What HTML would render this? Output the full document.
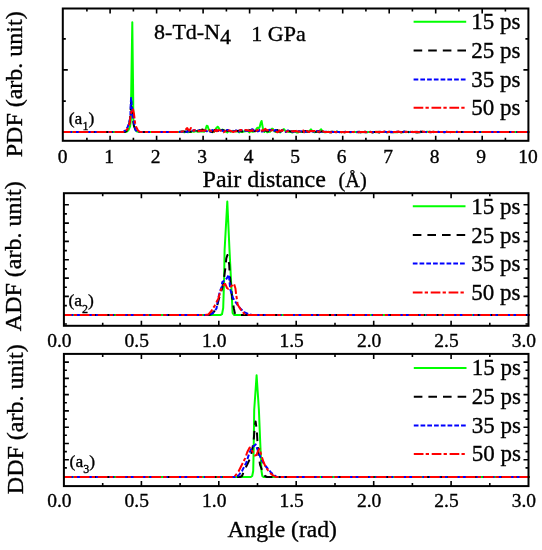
<!DOCTYPE html>
<html><head><meta charset="utf-8"><title>PDF ADF DDF</title>
<style>
html,body{margin:0;padding:0;background:#fff;}
body{width:542px;height:550px;overflow:hidden;}
svg{display:block;}
text{font-family:"Liberation Serif","Times New Roman",serif;fill:#000;stroke:#000;stroke-width:0.35px;}
.lg{font-size:23px;}
.tk{font-size:19.5px;}
.ax{font-size:24px;}
.an{font-size:22px;}
.al{font-size:17.5px;}
</style></head>
<body>
<svg width="542" height="550" viewBox="0 0 542 550">
<rect width="542" height="550" fill="#fff"/>
<defs>
<clipPath id="c1"><rect x="62.8" y="8.5" width="466.6" height="132.3"/></clipPath>
<clipPath id="c2"><rect x="63.9" y="193.2" width="465.6" height="132.6"/></clipPath>
<clipPath id="c3"><rect x="63.9" y="353.9" width="465.6" height="132.2"/></clipPath>
</defs>
<path d="M60.8,132.0 L125.0,132.0 L127.0,131.6 L128.5,130.0 L130.2,126.0 L130.9,119.0 L131.1,100.0 L131.4,80.0 L132.3,22.2 L133.0,80.0 L133.2,100.0 L133.3,119.0 L134.0,126.0 L135.5,130.0 L137.0,131.6 L139.0,132.0 L150.0,132.0 L150.9,132.0 L151.9,132.0 L152.8,132.0 L153.7,132.0 L154.7,132.0 L155.6,132.0 L156.5,132.0 L157.4,132.0 L158.4,132.0 L159.3,132.0 L160.2,132.0 L161.2,132.0 L162.1,132.0 L163.0,132.0 L163.9,132.0 L164.9,132.0 L165.8,132.0 L166.7,132.0 L167.7,132.0 L168.6,132.0 L169.5,132.0 L170.5,132.0 L171.4,132.0 L172.3,132.0 L173.2,132.1 L174.2,132.1 L175.1,132.0 L176.0,132.0 L177.0,132.0 L177.9,131.9 L178.8,131.9 L179.8,132.1 L180.7,131.7 L181.6,131.5 L182.6,131.7 L183.5,131.8 L184.4,132.3 L185.3,132.1 L186.3,131.7 L187.2,132.1 L188.1,132.3 L189.1,131.9 L190.0,132.0 L190.9,132.0 L191.8,131.6 L192.8,131.6 L193.7,131.8 L194.6,131.5 L195.6,131.0 L196.5,131.1 L197.4,131.7 L198.4,131.5 L199.3,131.4 L200.2,131.3 L201.2,131.6 L202.1,131.5 L203.0,131.1 L203.9,131.8 L204.9,131.2 L205.8,128.5 L206.7,125.8 L207.7,126.2 L208.6,129.2 L209.5,130.9 L210.4,131.4 L211.4,131.6 L212.3,131.1 L213.2,131.8 L214.2,131.8 L215.1,130.0 L216.0,128.5 L217.0,127.3 L217.9,126.7 L218.8,128.1 L219.8,129.8 L220.7,130.3 L221.6,130.2 L222.5,129.6 L223.5,130.4 L224.4,131.1 L225.3,131.1 L226.3,132.0 L227.2,132.5 L228.1,131.6 L229.1,130.9 L230.0,131.5 L230.9,131.7 L231.8,131.3 L232.8,131.1 L233.7,131.0 L234.6,131.1 L235.6,131.4 L236.5,131.6 L237.4,131.2 L238.4,131.9 L239.3,132.4 L240.2,131.5 L241.1,132.0 L242.1,131.9 L243.0,131.6 L243.9,131.4 L244.9,131.2 L245.8,131.3 L246.7,130.8 L247.7,130.9 L248.6,131.7 L249.5,132.4 L250.4,131.4 L251.4,130.9 L252.3,131.8 L253.2,131.7 L254.2,131.4 L255.1,130.9 L256.0,129.6 L256.9,128.2 L257.9,127.7 L258.8,128.2 L259.7,127.1 L260.7,122.9 L261.6,121.0 L262.5,126.1 L263.5,131.5 L264.4,132.0 L265.3,130.3 L266.2,130.9 L267.2,132.3 L268.1,131.7 L269.0,131.6 L270.0,131.8 L270.9,130.7 L271.8,128.7 L272.8,128.8 L273.7,130.4 L274.6,131.3 L275.6,131.9 L276.5,132.0 L277.4,132.0 L278.3,131.9 L279.3,132.0 L280.2,132.4 L281.1,131.3 L282.1,130.3 L283.0,129.6 L283.9,129.1 L284.9,130.4 L285.8,131.6 L286.7,131.5 L287.6,131.4 L288.6,132.0 L289.5,131.8 L290.4,131.6 L291.4,132.3 L292.3,132.4 L293.2,132.2 L294.1,131.2 L295.1,131.5 L296.0,132.1 L296.9,132.5 L297.9,132.5 L298.8,131.4 L299.7,131.5 L300.7,132.1 L301.6,131.9 L302.5,131.4 L303.5,131.3 L304.4,130.9 L305.3,131.1 L306.2,131.9 L307.2,132.0 L308.1,131.8 L309.0,131.4 L310.0,130.3 L310.9,129.3 L311.8,130.5 L312.8,131.5 L313.7,131.7 L314.6,132.3 L315.5,132.0 L316.5,131.4 L317.4,131.5 L318.3,131.7 L319.3,131.6 L320.2,130.1 L321.1,129.2 L322.1,130.8 L323.0,132.0 L323.9,132.0 L324.8,132.2 L325.8,132.2 L326.7,132.0 L327.6,131.9 L328.6,131.7 L329.5,132.2 L330.4,132.3 L331.4,132.2 L332.3,132.1 L333.2,131.8 L334.1,131.9 L335.1,132.1 L336.0,131.9 L336.9,131.5 L337.9,131.9 L338.8,132.1 L339.7,132.0 L340.6,132.1 L341.6,132.2 L342.5,131.9 L343.4,131.9 L344.4,132.2 L345.3,132.0 L346.2,132.0 L347.2,132.1 L348.1,132.1 L349.0,132.1 L350.0,132.2 L350.9,132.2 L351.8,132.1 L352.7,132.1 L353.7,132.0 L354.6,132.0 L355.5,131.9 L356.5,131.9 L357.4,132.1 L358.3,132.1 L359.2,132.1 L360.2,132.2 L361.1,132.1 L362.0,132.1 L363.0,132.2 L363.9,132.0 L364.8,131.9 L365.8,132.0 L366.7,132.3 L367.6,132.2 L368.6,131.9 L369.5,132.1 L370.4,132.1 L371.3,132.0 L372.3,132.2 L373.2,132.1 L374.1,132.0 L375.1,132.0 L376.0,132.2 L376.9,132.0 L377.9,131.8 L378.8,132.3 L379.7,132.1 L380.6,132.0 L381.6,132.0 L382.5,132.0 L383.4,132.0 L384.4,132.0 L385.3,132.1 L386.2,132.0 L387.1,132.0 L388.1,132.2 L389.0,132.1 L389.9,131.9 L390.9,132.0 L391.8,132.1 L392.7,132.0 L393.7,132.1 L394.6,132.3 L395.5,132.1 L396.5,132.2 L397.4,132.2 L398.3,132.0 L399.2,131.9 L400.2,132.0 L401.1,132.2 L402.0,132.0 L403.0,132.3 L403.9,131.9 L404.8,131.7 L405.8,132.2 L406.7,132.0 L407.6,131.9 L408.5,132.2 L409.5,132.1 L410.4,131.8 L411.3,131.9 L412.3,132.1 L413.2,132.0 L414.1,132.1 L415.1,132.1 L416.0,131.9 L416.9,132.1 L417.8,132.3 L418.8,132.2 L419.7,132.1 L420.6,132.0 L421.6,131.9 L422.5,131.9 L423.4,131.9 L424.4,132.0 L425.3,132.1 L426.2,132.0 L427.1,131.7 L428.1,131.8 L429.0,132.1 L429.9,132.1 L430.9,132.1 L431.8,132.1 L432.7,132.1 L433.7,132.0 L434.6,131.9 L435.5,131.9 L436.4,132.0 L437.4,131.9 L438.3,131.9 L439.2,131.9 L440.2,131.9 L441.1,132.1 L442.0,132.1 L442.9,132.0 L443.9,132.1 L444.8,132.1 L445.7,132.1 L446.7,132.0 L447.6,131.9 L448.5,132.0 L449.5,132.1 L450.4,132.1 L451.3,132.0 L452.2,132.1 L453.2,132.1 L454.1,132.1 L455.0,132.0 L456.0,132.0 L456.9,131.9 L457.8,131.9 L458.8,132.0 L459.7,132.0 L460.6,132.0 L461.6,132.0 L462.5,132.0 L463.4,131.9 L464.3,132.0 L465.3,132.1 L466.2,132.0 L467.1,132.0 L468.1,132.0 L469.0,132.0 L469.9,132.0 L470.9,132.0 L471.8,132.0 L472.7,132.0 L473.6,132.0 L474.6,132.0 L475.5,132.0 L476.4,132.0 L477.4,132.0 L478.3,132.0 L479.2,132.0 L480.2,132.0 L481.1,132.0 L482.0,132.0 L482.9,132.0 L483.9,132.0 L484.8,132.0 L485.7,132.0 L486.7,132.0 L487.6,132.0 L488.5,132.0 L489.5,132.0 L490.4,132.0 L491.3,132.0 L492.2,132.0 L493.2,132.0 L494.1,132.0 L495.0,132.0 L496.0,132.0 L496.9,132.0 L497.8,132.0 L498.8,132.0 L499.7,132.0 L500.6,132.0 L501.5,132.0 L502.5,132.0 L503.4,132.0 L504.3,132.0 L505.3,132.0 L506.2,132.0 L507.1,132.0 L508.1,132.0 L509.0,132.0 L509.9,132.0 L510.8,132.0 L511.8,132.0 L512.7,132.0 L513.6,132.0 L514.6,132.0 L515.5,132.0 L516.4,132.0 L517.4,132.0 L518.3,132.0 L519.2,132.0 L520.1,132.0 L521.1,132.0 L522.0,132.0 L522.9,132.0 L523.9,132.0 L524.8,132.0 L525.7,132.0 L526.7,132.0 L527.6,132.0 L528.5,132.0 L529.4,132.0 L530.4,132.0" fill="none" stroke="#00ff00" stroke-width="2.0" stroke-linejoin="round" clip-path="url(#c1)"/>

<path d="M60.8,132.0 L124.5,132.0 L126.5,131.0 L128.5,127.0 L130.0,120.2 L130.6,110.0 L131.4,101.0 L132.3,110.0 L133.0,120.0 L134.0,126.0 L136.0,131.0 L138.0,132.0 L150.0,132.0 L150.9,132.0 L151.9,132.0 L152.8,132.0 L153.7,132.0 L154.7,132.0 L155.6,132.0 L156.5,132.0 L157.4,132.0 L158.4,132.0 L159.3,132.0 L160.2,132.0 L161.2,132.0 L162.1,132.0 L163.0,132.0 L163.9,132.0 L164.9,132.0 L165.8,132.0 L166.7,132.0 L167.7,132.0 L168.6,132.0 L169.5,132.0 L170.5,132.0 L171.4,132.0 L172.3,132.0 L173.2,132.0 L174.2,131.9 L175.1,132.0 L176.0,132.1 L177.0,132.1 L177.9,132.0 L178.8,131.9 L179.8,131.8 L180.7,131.6 L181.6,131.6 L182.6,131.6 L183.5,131.6 L184.4,131.4 L185.3,131.6 L186.3,131.8 L187.2,131.4 L188.1,130.8 L189.1,131.0 L190.0,131.8 L190.9,131.7 L191.8,131.0 L192.8,130.8 L193.7,130.6 L194.6,131.1 L195.6,131.1 L196.5,130.0 L197.4,130.9 L198.4,131.2 L199.3,130.2 L200.2,130.2 L201.2,130.3 L202.1,129.4 L203.0,129.7 L203.9,130.7 L204.9,131.1 L205.8,130.7 L206.7,130.5 L207.7,130.8 L208.6,130.8 L209.5,130.5 L210.4,130.9 L211.4,131.7 L212.3,132.2 L213.2,131.2 L214.2,130.2 L215.1,130.1 L216.0,130.1 L217.0,131.0 L217.9,130.8 L218.8,130.5 L219.8,131.2 L220.7,131.5 L221.6,130.4 L222.5,129.9 L223.5,130.4 L224.4,130.6 L225.3,131.1 L226.3,130.6 L227.2,130.4 L228.1,131.0 L229.1,131.0 L230.0,131.1 L230.9,131.0 L231.8,130.2 L232.8,130.6 L233.7,130.5 L234.6,130.4 L235.6,130.9 L236.5,131.0 L237.4,131.1 L238.4,130.8 L239.3,130.8 L240.2,131.1 L241.1,131.2 L242.1,131.3 L243.0,131.6 L243.9,131.4 L244.9,130.6 L245.8,130.2 L246.7,130.1 L247.7,129.5 L248.6,129.7 L249.5,130.8 L250.4,130.2 L251.4,130.4 L252.3,130.7 L253.2,130.7 L254.2,130.9 L255.1,131.3 L256.0,131.1 L256.9,130.4 L257.9,131.1 L258.8,130.4 L259.7,129.8 L260.7,130.4 L261.6,131.0 L262.5,131.0 L263.5,130.8 L264.4,130.5 L265.3,130.1 L266.2,130.7 L267.2,131.2 L268.1,131.1 L269.0,131.4 L270.0,131.4 L270.9,131.0 L271.8,130.5 L272.8,130.0 L273.7,130.6 L274.6,130.9 L275.6,130.8 L276.5,130.2 L277.4,130.1 L278.3,130.7 L279.3,131.1 L280.2,131.6 L281.1,131.2 L282.1,131.0 L283.0,131.0 L283.9,131.5 L284.9,131.4 L285.8,131.1 L286.7,130.8 L287.6,130.5 L288.6,130.8 L289.5,131.2 L290.4,131.5 L291.4,131.3 L292.3,131.7 L293.2,131.4 L294.1,131.3 L295.1,131.3 L296.0,130.9 L296.9,130.8 L297.9,131.1 L298.8,131.9 L299.7,132.2 L300.7,131.7 L301.6,132.2 L302.5,131.9 L303.5,131.2 L304.4,131.6 L305.3,131.2 L306.2,131.0 L307.2,131.2 L308.1,131.8 L309.0,131.8 L310.0,131.4 L310.9,131.7 L311.8,131.6 L312.8,131.2 L313.7,132.0 L314.6,132.1 L315.5,132.0 L316.5,131.7 L317.4,131.3 L318.3,131.8 L319.3,132.2 L320.2,131.9 L321.1,131.8 L322.1,131.6 L323.0,131.4 L323.9,131.8 L324.8,131.8 L325.8,132.1 L326.7,132.2 L327.6,131.8 L328.6,131.9 L329.5,132.1 L330.4,132.0 L331.4,131.7 L332.3,131.7 L333.2,132.1 L334.1,132.0 L335.1,132.1 L336.0,132.2 L336.9,132.0 L337.9,132.0 L338.8,132.0 L339.7,131.9 L340.6,131.8 L341.6,132.2 L342.5,132.5 L343.4,132.3 L344.4,131.9 L345.3,131.8 L346.2,132.0 L347.2,132.0 L348.1,131.9 L349.0,131.9 L350.0,131.9 L350.9,132.1 L351.8,132.0 L352.7,131.7 L353.7,132.0 L354.6,131.9 L355.5,131.6 L356.5,132.0 L357.4,132.3 L358.3,132.2 L359.2,131.8 L360.2,132.0 L361.1,132.3 L362.0,132.1 L363.0,131.9 L363.9,132.1 L364.8,131.7 L365.8,131.4 L366.7,131.6 L367.6,131.9 L368.6,132.0 L369.5,132.2 L370.4,132.3 L371.3,132.1 L372.3,132.3 L373.2,132.4 L374.1,132.1 L375.1,131.9 L376.0,132.0 L376.9,131.9 L377.9,132.0 L378.8,132.3 L379.7,132.4 L380.6,132.3 L381.6,131.9 L382.5,131.9 L383.4,131.9 L384.4,132.1 L385.3,132.2 L386.2,132.2 L387.1,132.3 L388.1,131.9 L389.0,131.7 L389.9,132.0 L390.9,132.2 L391.8,132.1 L392.7,132.2 L393.7,132.1 L394.6,132.1 L395.5,132.2 L396.5,132.2 L397.4,132.2 L398.3,132.2 L399.2,132.4 L400.2,132.3 L401.1,132.2 L402.0,132.1 L403.0,132.0 L403.9,131.8 L404.8,131.7 L405.8,131.9 L406.7,131.9 L407.6,132.0 L408.5,131.9 L409.5,131.8 L410.4,132.1 L411.3,132.1 L412.3,131.8 L413.2,132.2 L414.1,132.4 L415.1,132.2 L416.0,132.3 L416.9,132.4 L417.8,132.3 L418.8,132.1 L419.7,131.9 L420.6,131.6 L421.6,131.7 L422.5,131.9 L423.4,131.9 L424.4,132.0 L425.3,132.1 L426.2,132.3 L427.1,132.3 L428.1,132.0 L429.0,131.8 L429.9,131.8 L430.9,131.9 L431.8,132.0 L432.7,131.9 L433.7,131.7 L434.6,131.9 L435.5,132.1 L436.4,132.1 L437.4,132.0 L438.3,131.8 L439.2,132.0 L440.2,132.0 L441.1,131.9 L442.0,132.0 L442.9,132.1 L443.9,132.2 L444.8,132.2 L445.7,132.1 L446.7,131.8 L447.6,132.0 L448.5,132.1 L449.5,132.0 L450.4,132.0 L451.3,132.0 L452.2,132.1 L453.2,132.0 L454.1,132.0 L455.0,132.0 L456.0,132.0 L456.9,132.0 L457.8,132.1 L458.8,132.1 L459.7,132.0 L460.6,132.0 L461.6,132.0 L462.5,132.0 L463.4,132.0 L464.3,132.0 L465.3,132.0 L466.2,131.9 L467.1,132.0 L468.1,132.0 L469.0,132.1 L469.9,132.0 L470.9,132.0 L471.8,132.0 L472.7,132.0 L473.6,132.0 L474.6,132.0 L475.5,132.0 L476.4,132.0 L477.4,132.0 L478.3,132.0 L479.2,132.0 L480.2,132.0 L481.1,132.0 L482.0,132.0 L482.9,132.0 L483.9,132.0 L484.8,132.0 L485.7,132.0 L486.7,132.0 L487.6,132.0 L488.5,132.0 L489.5,132.0 L490.4,132.0 L491.3,132.0 L492.2,132.0 L493.2,132.0 L494.1,132.0 L495.0,132.0 L496.0,132.0 L496.9,132.0 L497.8,132.0 L498.8,132.0 L499.7,132.0 L500.6,132.0 L501.5,132.0 L502.5,132.0 L503.4,132.0 L504.3,132.0 L505.3,132.0 L506.2,132.0 L507.1,132.0 L508.1,132.0 L509.0,132.0 L509.9,132.0 L510.8,132.0 L511.8,132.0 L512.7,132.0 L513.6,132.0 L514.6,132.0 L515.5,132.0 L516.4,132.0 L517.4,132.0 L518.3,132.0 L519.2,132.0 L520.1,132.0 L521.1,132.0 L522.0,132.0 L522.9,132.0 L523.9,132.0 L524.8,132.0 L525.7,132.0 L526.7,132.0 L527.6,132.0 L528.5,132.0 L529.4,132.0 L530.4,132.0" fill="none" stroke="#000000" stroke-width="2.0" stroke-dasharray="8.6 6.0" stroke-linejoin="round" clip-path="url(#c1)"/>

<path d="M60.8,132.0 L123.0,132.0 L125.6,130.4 L127.8,126.7 L129.3,121.6 L130.4,117.0 L130.7,105.0 L131.1,97.9 L131.7,105.0 L132.5,114.0 L133.6,120.2 L134.4,124.5 L135.5,130.0 L137.5,132.0 L150.0,132.0 L150.9,132.0 L151.9,132.0 L152.8,132.0 L153.7,132.0 L154.7,132.0 L155.6,132.0 L156.5,132.0 L157.4,132.0 L158.4,132.0 L159.3,132.0 L160.2,132.0 L161.2,132.0 L162.1,132.0 L163.0,132.0 L163.9,132.0 L164.9,132.0 L165.8,132.0 L166.7,132.0 L167.7,132.0 L168.6,132.0 L169.5,132.0 L170.5,132.0 L171.4,132.0 L172.3,132.0 L173.2,132.0 L174.2,131.9 L175.1,131.9 L176.0,132.0 L177.0,132.0 L177.9,132.0 L178.8,132.0 L179.8,131.8 L180.7,131.7 L181.6,131.7 L182.6,131.6 L183.5,132.0 L184.4,131.9 L185.3,131.5 L186.3,132.1 L187.2,131.8 L188.1,131.1 L189.1,131.2 L190.0,131.7 L190.9,131.5 L191.8,131.1 L192.8,130.5 L193.7,130.2 L194.6,130.6 L195.6,130.4 L196.5,130.5 L197.4,131.2 L198.4,130.8 L199.3,130.3 L200.2,130.6 L201.2,131.1 L202.1,130.9 L203.0,131.5 L203.9,131.4 L204.9,130.3 L205.8,131.1 L206.7,131.3 L207.7,131.0 L208.6,130.8 L209.5,131.2 L210.4,131.8 L211.4,130.8 L212.3,130.0 L213.2,131.1 L214.2,131.7 L215.1,130.8 L216.0,130.8 L217.0,130.3 L217.9,130.6 L218.8,131.0 L219.8,131.0 L220.7,130.6 L221.6,130.2 L222.5,130.8 L223.5,131.5 L224.4,130.7 L225.3,129.8 L226.3,130.1 L227.2,130.0 L228.1,130.1 L229.1,130.8 L230.0,131.2 L230.9,131.3 L231.8,130.5 L232.8,130.7 L233.7,131.5 L234.6,131.0 L235.6,130.7 L236.5,130.4 L237.4,131.0 L238.4,131.8 L239.3,131.4 L240.2,130.2 L241.1,130.0 L242.1,130.3 L243.0,130.7 L243.9,130.7 L244.9,130.7 L245.8,130.5 L246.7,130.7 L247.7,130.9 L248.6,130.7 L249.5,130.5 L250.4,130.4 L251.4,129.7 L252.3,129.2 L253.2,129.6 L254.2,130.9 L255.1,131.6 L256.0,131.1 L256.9,130.7 L257.9,131.4 L258.8,131.1 L259.7,129.9 L260.7,130.8 L261.6,131.6 L262.5,131.4 L263.5,131.0 L264.4,130.4 L265.3,129.7 L266.2,130.0 L267.2,130.5 L268.1,130.4 L269.0,130.0 L270.0,129.8 L270.9,129.9 L271.8,130.6 L272.8,131.2 L273.7,131.2 L274.6,130.5 L275.6,130.0 L276.5,130.7 L277.4,131.1 L278.3,130.9 L279.3,131.0 L280.2,131.5 L281.1,131.1 L282.1,129.9 L283.0,130.2 L283.9,131.3 L284.9,131.7 L285.8,132.0 L286.7,131.4 L287.6,130.6 L288.6,130.8 L289.5,131.0 L290.4,131.0 L291.4,131.1 L292.3,131.7 L293.2,131.9 L294.1,131.4 L295.1,131.5 L296.0,131.7 L296.9,131.8 L297.9,131.7 L298.8,131.1 L299.7,131.2 L300.7,131.6 L301.6,131.1 L302.5,130.9 L303.5,130.6 L304.4,131.6 L305.3,131.9 L306.2,131.4 L307.2,131.6 L308.1,131.2 L309.0,131.0 L310.0,130.9 L310.9,131.2 L311.8,131.1 L312.8,131.3 L313.7,131.8 L314.6,131.5 L315.5,131.6 L316.5,131.3 L317.4,131.0 L318.3,131.0 L319.3,131.3 L320.2,131.9 L321.1,131.9 L322.1,131.7 L323.0,131.8 L323.9,131.9 L324.8,131.8 L325.8,131.7 L326.7,131.8 L327.6,131.9 L328.6,131.9 L329.5,132.2 L330.4,132.2 L331.4,132.2 L332.3,132.1 L333.2,131.9 L334.1,131.9 L335.1,131.9 L336.0,131.7 L336.9,131.8 L337.9,131.9 L338.8,132.0 L339.7,132.2 L340.6,132.1 L341.6,132.1 L342.5,132.1 L343.4,131.9 L344.4,131.9 L345.3,131.9 L346.2,132.1 L347.2,132.1 L348.1,132.0 L349.0,132.1 L350.0,132.0 L350.9,132.0 L351.8,132.0 L352.7,132.1 L353.7,132.1 L354.6,132.3 L355.5,132.3 L356.5,132.2 L357.4,132.0 L358.3,131.7 L359.2,132.1 L360.2,132.2 L361.1,132.0 L362.0,132.1 L363.0,132.1 L363.9,132.0 L364.8,132.3 L365.8,132.3 L366.7,132.1 L367.6,132.0 L368.6,132.1 L369.5,132.1 L370.4,131.8 L371.3,132.1 L372.3,132.2 L373.2,132.1 L374.1,132.1 L375.1,131.9 L376.0,131.8 L376.9,132.1 L377.9,132.2 L378.8,132.1 L379.7,131.7 L380.6,131.7 L381.6,132.0 L382.5,131.9 L383.4,131.9 L384.4,131.7 L385.3,131.8 L386.2,132.0 L387.1,131.9 L388.1,131.9 L389.0,132.1 L389.9,131.9 L390.9,131.8 L391.8,132.0 L392.7,132.1 L393.7,132.2 L394.6,132.0 L395.5,131.8 L396.5,131.8 L397.4,131.8 L398.3,131.8 L399.2,131.9 L400.2,131.9 L401.1,131.8 L402.0,131.9 L403.0,131.9 L403.9,131.7 L404.8,131.8 L405.8,132.0 L406.7,132.0 L407.6,131.7 L408.5,131.8 L409.5,132.0 L410.4,132.0 L411.3,131.9 L412.3,132.1 L413.2,132.2 L414.1,131.8 L415.1,132.0 L416.0,131.9 L416.9,131.7 L417.8,132.0 L418.8,132.0 L419.7,132.2 L420.6,132.3 L421.6,131.8 L422.5,131.9 L423.4,131.9 L424.4,131.8 L425.3,131.9 L426.2,131.9 L427.1,132.2 L428.1,132.3 L429.0,132.0 L429.9,132.1 L430.9,132.3 L431.8,132.1 L432.7,132.0 L433.7,132.2 L434.6,132.2 L435.5,132.0 L436.4,132.0 L437.4,132.0 L438.3,131.8 L439.2,131.9 L440.2,132.1 L441.1,132.2 L442.0,132.1 L442.9,131.9 L443.9,131.9 L444.8,131.9 L445.7,132.0 L446.7,132.0 L447.6,132.0 L448.5,132.1 L449.5,132.1 L450.4,132.2 L451.3,132.1 L452.2,132.1 L453.2,132.1 L454.1,132.0 L455.0,132.0 L456.0,131.9 L456.9,131.8 L457.8,132.0 L458.8,132.0 L459.7,132.0 L460.6,132.0 L461.6,132.0 L462.5,132.0 L463.4,132.1 L464.3,132.1 L465.3,132.0 L466.2,132.0 L467.1,132.0 L468.1,132.0 L469.0,132.0 L469.9,132.0 L470.9,132.0 L471.8,132.0 L472.7,132.0 L473.6,132.0 L474.6,132.0 L475.5,132.0 L476.4,132.0 L477.4,132.0 L478.3,132.0 L479.2,132.0 L480.2,132.0 L481.1,132.0 L482.0,132.0 L482.9,132.0 L483.9,132.0 L484.8,132.0 L485.7,132.0 L486.7,132.0 L487.6,132.0 L488.5,132.0 L489.5,132.0 L490.4,132.0 L491.3,132.0 L492.2,132.0 L493.2,132.0 L494.1,132.0 L495.0,132.0 L496.0,132.0 L496.9,132.0 L497.8,132.0 L498.8,132.0 L499.7,132.0 L500.6,132.0 L501.5,132.0 L502.5,132.0 L503.4,132.0 L504.3,132.0 L505.3,132.0 L506.2,132.0 L507.1,132.0 L508.1,132.0 L509.0,132.0 L509.9,132.0 L510.8,132.0 L511.8,132.0 L512.7,132.0 L513.6,132.0 L514.6,132.0 L515.5,132.0 L516.4,132.0 L517.4,132.0 L518.3,132.0 L519.2,132.0 L520.1,132.0 L521.1,132.0 L522.0,132.0 L522.9,132.0 L523.9,132.0 L524.8,132.0 L525.7,132.0 L526.7,132.0 L527.6,132.0 L528.5,132.0 L529.4,132.0 L530.4,132.0" fill="none" stroke="#0000ff" stroke-width="2.0" stroke-dasharray="4.7 2.05" stroke-linejoin="round" clip-path="url(#c1)"/>

<path d="M60.8,132.0 L123.0,132.0 L125.5,131.0 L127.8,128.5 L129.6,123.5 L130.4,116.5 L131.8,109.5 L132.9,108.5 L134.0,114.0 L135.1,123.0 L136.2,127.0 L138.0,130.5 L139.8,131.8 L141.0,132.0 L150.0,132.0 L150.9,132.0 L151.9,132.0 L152.8,132.0 L153.7,132.0 L154.7,132.0 L155.6,132.0 L156.5,132.0 L157.4,132.0 L158.4,132.0 L159.3,132.0 L160.2,132.0 L161.2,132.0 L162.1,132.0 L163.0,132.0 L163.9,132.0 L164.9,132.0 L165.8,132.0 L166.7,132.0 L167.7,132.0 L168.6,132.0 L169.5,132.0 L170.5,132.0 L171.4,132.0 L172.3,132.0 L173.2,132.0 L174.2,132.0 L175.1,132.0 L176.0,132.0 L177.0,132.1 L177.9,132.1 L178.8,132.0 L179.8,132.0 L180.7,131.9 L181.6,131.6 L182.6,131.5 L183.5,131.2 L184.4,131.4 L185.3,130.7 L186.3,128.7 L187.2,128.0 L188.1,129.4 L189.1,130.6 L190.0,130.0 L190.9,128.0 L191.8,128.2 L192.8,130.0 L193.7,130.9 L194.6,130.1 L195.6,130.2 L196.5,131.1 L197.4,130.7 L198.4,130.9 L199.3,131.3 L200.2,130.9 L201.2,130.4 L202.1,130.9 L203.0,130.7 L203.9,130.3 L204.9,130.8 L205.8,130.3 L206.7,130.1 L207.7,130.0 L208.6,130.2 L209.5,130.6 L210.4,130.6 L211.4,131.0 L212.3,130.6 L213.2,130.5 L214.2,131.6 L215.1,130.4 L216.0,129.9 L217.0,131.3 L217.9,130.4 L218.8,130.1 L219.8,130.4 L220.7,130.6 L221.6,131.2 L222.5,131.5 L223.5,132.2 L224.4,131.9 L225.3,131.1 L226.3,130.4 L227.2,129.3 L228.1,130.1 L229.1,130.7 L230.0,130.5 L230.9,131.0 L231.8,131.4 L232.8,132.0 L233.7,131.7 L234.6,131.5 L235.6,131.2 L236.5,131.0 L237.4,130.5 L238.4,130.1 L239.3,130.6 L240.2,130.1 L241.1,130.0 L242.1,130.5 L243.0,130.8 L243.9,130.8 L244.9,130.3 L245.8,129.9 L246.7,130.2 L247.7,130.2 L248.6,130.6 L249.5,130.7 L250.4,131.1 L251.4,130.7 L252.3,130.1 L253.2,130.6 L254.2,130.4 L255.1,130.4 L256.0,130.8 L256.9,130.3 L257.9,130.1 L258.8,131.0 L259.7,130.9 L260.7,131.2 L261.6,130.7 L262.5,130.1 L263.5,130.8 L264.4,129.7 L265.3,128.8 L266.2,129.7 L267.2,130.4 L268.1,130.0 L269.0,129.5 L270.0,130.0 L270.9,130.7 L271.8,130.2 L272.8,130.1 L273.7,130.3 L274.6,130.2 L275.6,131.0 L276.5,131.7 L277.4,132.3 L278.3,132.1 L279.3,130.4 L280.2,130.8 L281.1,130.9 L282.1,130.0 L283.0,130.6 L283.9,131.0 L284.9,131.0 L285.8,131.4 L286.7,131.5 L287.6,131.2 L288.6,130.9 L289.5,130.5 L290.4,131.1 L291.4,131.1 L292.3,131.2 L293.2,131.6 L294.1,131.1 L295.1,131.1 L296.0,131.3 L296.9,131.2 L297.9,131.4 L298.8,131.8 L299.7,131.7 L300.7,131.0 L301.6,131.0 L302.5,130.7 L303.5,130.6 L304.4,132.5 L305.3,132.7 L306.2,131.0 L307.2,130.9 L308.1,131.7 L309.0,132.0 L310.0,131.4 L310.9,130.9 L311.8,131.1 L312.8,131.3 L313.7,131.1 L314.6,131.0 L315.5,131.8 L316.5,131.8 L317.4,131.5 L318.3,131.7 L319.3,131.6 L320.2,131.6 L321.1,132.4 L322.1,132.1 L323.0,131.3 L323.9,131.7 L324.8,132.0 L325.8,131.9 L326.7,132.1 L327.6,132.1 L328.6,132.0 L329.5,132.1 L330.4,132.2 L331.4,132.2 L332.3,131.9 L333.2,131.7 L334.1,131.8 L335.1,131.9 L336.0,132.1 L336.9,132.0 L337.9,131.7 L338.8,132.0 L339.7,132.1 L340.6,132.1 L341.6,132.3 L342.5,132.0 L343.4,132.1 L344.4,132.4 L345.3,132.2 L346.2,131.9 L347.2,131.9 L348.1,131.9 L349.0,131.9 L350.0,131.9 L350.9,131.8 L351.8,132.0 L352.7,131.9 L353.7,131.9 L354.6,131.7 L355.5,131.5 L356.5,131.7 L357.4,132.0 L358.3,132.2 L359.2,132.2 L360.2,132.1 L361.1,132.0 L362.0,132.0 L363.0,132.0 L363.9,131.9 L364.8,132.1 L365.8,132.3 L366.7,132.0 L367.6,131.8 L368.6,132.0 L369.5,131.9 L370.4,131.9 L371.3,132.1 L372.3,132.3 L373.2,132.1 L374.1,131.9 L375.1,131.9 L376.0,131.8 L376.9,131.9 L377.9,132.0 L378.8,131.8 L379.7,131.9 L380.6,132.0 L381.6,132.0 L382.5,131.9 L383.4,131.8 L384.4,131.6 L385.3,131.8 L386.2,131.8 L387.1,131.9 L388.1,132.0 L389.0,131.9 L389.9,131.8 L390.9,131.7 L391.8,132.0 L392.7,132.0 L393.7,131.9 L394.6,132.0 L395.5,132.1 L396.5,132.1 L397.4,131.8 L398.3,131.6 L399.2,131.8 L400.2,132.0 L401.1,132.3 L402.0,132.1 L403.0,132.0 L403.9,131.9 L404.8,132.0 L405.8,132.0 L406.7,131.7 L407.6,131.9 L408.5,132.0 L409.5,132.0 L410.4,132.1 L411.3,131.9 L412.3,131.7 L413.2,131.9 L414.1,132.1 L415.1,131.8 L416.0,132.0 L416.9,132.1 L417.8,132.1 L418.8,132.2 L419.7,132.0 L420.6,131.8 L421.6,131.6 L422.5,131.5 L423.4,131.7 L424.4,131.9 L425.3,132.0 L426.2,132.0 L427.1,132.2 L428.1,132.1 L429.0,131.9 L429.9,132.2 L430.9,132.1 L431.8,131.9 L432.7,131.8 L433.7,131.9 L434.6,132.0 L435.5,132.0 L436.4,132.1 L437.4,132.1 L438.3,132.0 L439.2,132.1 L440.2,132.0 L441.1,132.0 L442.0,132.1 L442.9,132.1 L443.9,132.1 L444.8,132.1 L445.7,132.0 L446.7,132.0 L447.6,132.1 L448.5,131.9 L449.5,131.9 L450.4,132.0 L451.3,132.0 L452.2,132.0 L453.2,132.0 L454.1,132.0 L455.0,132.0 L456.0,132.0 L456.9,132.0 L457.8,132.0 L458.8,131.9 L459.7,132.0 L460.6,132.0 L461.6,132.1 L462.5,132.0 L463.4,132.0 L464.3,132.0 L465.3,132.0 L466.2,132.0 L467.1,132.0 L468.1,132.0 L469.0,132.0 L469.9,132.0 L470.9,132.0 L471.8,132.0 L472.7,132.0 L473.6,132.0 L474.6,132.0 L475.5,132.0 L476.4,132.0 L477.4,132.0 L478.3,132.0 L479.2,132.0 L480.2,132.0 L481.1,132.0 L482.0,132.0 L482.9,132.0 L483.9,132.0 L484.8,132.0 L485.7,132.0 L486.7,132.0 L487.6,132.0 L488.5,132.0 L489.5,132.0 L490.4,132.0 L491.3,132.0 L492.2,132.0 L493.2,132.0 L494.1,132.0 L495.0,132.0 L496.0,132.0 L496.9,132.0 L497.8,132.0 L498.8,132.0 L499.7,132.0 L500.6,132.0 L501.5,132.0 L502.5,132.0 L503.4,132.0 L504.3,132.0 L505.3,132.0 L506.2,132.0 L507.1,132.0 L508.1,132.0 L509.0,132.0 L509.9,132.0 L510.8,132.0 L511.8,132.0 L512.7,132.0 L513.6,132.0 L514.6,132.0 L515.5,132.0 L516.4,132.0 L517.4,132.0 L518.3,132.0 L519.2,132.0 L520.1,132.0 L521.1,132.0 L522.0,132.0 L522.9,132.0 L523.9,132.0 L524.8,132.0 L525.7,132.0 L526.7,132.0 L527.6,132.0 L528.5,132.0 L529.4,132.0 L530.4,132.0" fill="none" stroke="#ff0000" stroke-width="2.0" stroke-dasharray="9.7 2.2 3.3 2.7" stroke-linejoin="round" clip-path="url(#c1)"/>

<path d="M61.9,315.0 L220.5,315.0 L222.0,314.2 L223.2,308.0 L224.1,280.0 L224.6,250.0 L227.3,201.5 L229.5,250.0 L231.5,290.0 L232.6,313.0 L234.0,315.0 L530.5,315.0" fill="none" stroke="#00ff00" stroke-width="2.0" stroke-linejoin="round" clip-path="url(#c2)"/>

<path d="M61.9,315.0 L208.0,315.0 L210.7,314.6 L214.5,311.0 L217.1,306.0 L219.0,298.5 L222.2,288.2 L224.1,277.4 L225.4,267.8 L226.3,258.5 L227.4,255.0 L228.3,259.0 L229.2,264.5 L229.7,274.4 L230.4,281.0 L231.4,291.0 L232.6,301.0 L233.9,308.5 L234.8,313.0 L237.0,315.0 L530.5,315.0" fill="none" stroke="#000000" stroke-width="2.0" stroke-dasharray="8.6 6.0" stroke-linejoin="round" clip-path="url(#c2)"/>

<path d="M61.9,315.0 L205.0,315.0 L207.5,315.0 L212.6,313.6 L216.5,308.5 L217.7,301.0 L219.7,292.0 L221.6,287.0 L222.3,282.0 L224.5,280.5 L226.7,278.5 L228.9,274.6 L229.6,283.0 L230.3,289.7 L232.0,294.5 L233.0,298.0 L236.5,303.5 L240.3,308.5 L244.7,312.4 L249.2,314.4 L252.0,315.0 L530.5,315.0" fill="none" stroke="#0000ff" stroke-width="2.0" stroke-dasharray="4.7 2.05" stroke-linejoin="round" clip-path="url(#c2)"/>

<path d="M61.9,315.0 L205.0,315.0 L208.2,314.6 L211.4,311.0 L214.5,306.0 L218.4,298.4 L220.5,291.1 L222.3,286.0 L225.2,283.8 L227.0,288.0 L228.3,288.8 L230.5,287.0 L232.5,285.0 L233.9,283.5 L235.4,288.2 L236.1,294.0 L237.7,304.7 L240.9,309.8 L244.1,313.6 L245.4,315.0 L530.5,315.0" fill="none" stroke="#ff0000" stroke-width="2.0" stroke-dasharray="9.7 2.2 3.3 2.7" stroke-linejoin="round" clip-path="url(#c2)"/>

<path d="M61.9,477.0 L250.8,477.0 L252.2,476.0 L253.2,471.0 L253.7,448.0 L254.2,410.0 L256.6,375.2 L258.9,410.0 L260.2,442.0 L261.5,471.0 L262.3,476.0 L263.5,477.0 L530.5,477.0" fill="none" stroke="#00ff00" stroke-width="2.0" stroke-linejoin="round" clip-path="url(#c3)"/>

<path d="M61.9,477.0 L240.0,477.0 L242.0,476.0 L244.5,470.0 L247.0,465.0 L249.8,459.0 L251.8,452.0 L253.6,441.4 L254.5,430.0 L255.6,421.5 L256.9,431.0 L257.5,443.0 L258.5,455.0 L260.1,465.0 L262.0,470.0 L263.4,473.0 L265.0,476.0 L267.0,477.0 L530.5,477.0" fill="none" stroke="#000000" stroke-width="2.0" stroke-dasharray="8.6 6.0" stroke-linejoin="round" clip-path="url(#c3)"/>

<path d="M61.9,477.0 L235.0,477.0 L238.5,475.5 L242.0,471.0 L246.4,462.4 L249.0,454.0 L251.6,448.0 L255.6,444.4 L258.8,453.2 L261.5,460.0 L264.7,465.0 L268.0,469.0 L271.3,472.8 L274.0,475.0 L276.5,476.8 L279.0,477.0 L530.5,477.0" fill="none" stroke="#0000ff" stroke-width="2.0" stroke-dasharray="4.7 2.05" stroke-linejoin="round" clip-path="url(#c3)"/>

<path d="M61.9,477.0 L232.0,477.0 L234.6,476.6 L238.5,471.5 L242.0,464.5 L245.1,458.4 L247.3,452.0 L249.7,447.5 L252.5,451.5 L254.8,455.5 L256.5,455.0 L258.0,451.0 L259.5,448.8 L261.5,455.8 L263.5,462.0 L266.0,467.6 L268.5,471.0 L271.3,474.1 L275.2,476.8 L278.0,477.0 L530.5,477.0" fill="none" stroke="#ff0000" stroke-width="2.0" stroke-dasharray="9.7 2.2 3.3 2.7" stroke-linejoin="round" clip-path="url(#c3)"/>

<path d="M110.1,140.8V135.8M110.1,8.5V13.5M156.6,140.8V135.8M156.6,8.5V13.5M203.1,140.8V135.8M203.1,8.5V13.5M249.6,140.8V135.8M249.6,8.5V13.5M296.1,140.8V135.8M296.1,8.5V13.5M342.7,140.8V135.8M342.7,8.5V13.5M389.2,140.8V135.8M389.2,8.5V13.5M435.7,140.8V135.8M435.7,8.5V13.5M482.2,140.8V135.8M482.2,8.5V13.5M86.9,140.8V137.8M86.9,8.5V11.5M133.4,140.8V137.8M133.4,8.5V11.5M179.9,140.8V137.8M179.9,8.5V11.5M226.4,140.8V137.8M226.4,8.5V11.5M272.9,140.8V137.8M272.9,8.5V11.5M319.4,140.8V137.8M319.4,8.5V11.5M365.9,140.8V137.8M365.9,8.5V11.5M412.4,140.8V137.8M412.4,8.5V11.5M458.9,140.8V137.8M458.9,8.5V11.5M505.4,140.8V137.8M505.4,8.5V11.5M62.8,69.9H67.8M528.4,69.9H523.4M62.8,101.1H65.8M528.4,101.1H525.4M62.8,38.9H65.8M528.4,38.9H525.4" stroke="#000" stroke-width="1.6" fill="none"/>
<rect x="62.8" y="8.5" width="465.6" height="132.3" fill="none" stroke="#000" stroke-width="2"/>
<path d="M141.4,325.8V320.8M141.4,193.2V198.2M218.8,325.8V320.8M218.8,193.2V198.2M296.2,325.8V320.8M296.2,193.2V198.2M373.7,325.8V320.8M373.7,193.2V198.2M451.1,325.8V320.8M451.1,193.2V198.2M102.7,325.8V322.8M102.7,193.2V196.2M180.1,325.8V322.8M180.1,193.2V196.2M257.5,325.8V322.8M257.5,193.2V196.2M335.0,325.8V322.8M335.0,193.2V196.2M412.4,325.8V322.8M412.4,193.2V196.2M489.8,325.8V322.8M489.8,193.2V196.2M63.9,296.4H68.9M528.5,296.4H523.5M63.9,278.1H68.9M528.5,278.1H523.5M63.9,259.8H68.9M528.5,259.8H523.5M63.9,241.4H68.9M528.5,241.4H523.5M63.9,223.1H68.9M528.5,223.1H523.5M63.9,204.7H68.9M528.5,204.7H523.5M63.9,324.0H66.9M528.5,324.0H525.5M63.9,305.6H66.9M528.5,305.6H525.5M63.9,287.3H66.9M528.5,287.3H525.5M63.9,268.9H66.9M528.5,268.9H525.5M63.9,250.6H66.9M528.5,250.6H525.5M63.9,232.2H66.9M528.5,232.2H525.5M63.9,213.9H66.9M528.5,213.9H525.5" stroke="#000" stroke-width="1.6" fill="none"/>
<rect x="63.9" y="193.2" width="464.6" height="132.6" fill="none" stroke="#000" stroke-width="2"/>
<path d="M141.4,486.1V481.1M141.4,353.9V358.9M218.8,486.1V481.1M218.8,353.9V358.9M296.2,486.1V481.1M296.2,353.9V358.9M373.7,486.1V481.1M373.7,353.9V358.9M451.1,486.1V481.1M451.1,353.9V358.9M102.7,486.1V483.1M102.7,353.9V356.9M180.1,486.1V483.1M180.1,353.9V356.9M257.5,486.1V483.1M257.5,353.9V356.9M335.0,486.1V483.1M335.0,353.9V356.9M412.4,486.1V483.1M412.4,353.9V356.9M489.8,486.1V483.1M489.8,353.9V356.9M63.9,459.7H68.9M528.5,459.7H523.5M63.9,443.5H68.9M528.5,443.5H523.5M63.9,427.2H68.9M528.5,427.2H523.5M63.9,410.9H68.9M528.5,410.9H523.5M63.9,394.6H68.9M528.5,394.6H523.5M63.9,378.4H68.9M528.5,378.4H523.5M63.9,362.1H68.9M528.5,362.1H523.5M63.9,467.9H66.9M528.5,467.9H525.5M63.9,451.6H66.9M528.5,451.6H525.5M63.9,435.3H66.9M528.5,435.3H525.5M63.9,419.1H66.9M528.5,419.1H525.5M63.9,402.8H66.9M528.5,402.8H525.5M63.9,386.5H66.9M528.5,386.5H525.5M63.9,370.2H66.9M528.5,370.2H525.5" stroke="#000" stroke-width="1.6" fill="none"/>
<rect x="63.9" y="353.9" width="464.6" height="132.2" fill="none" stroke="#000" stroke-width="2"/>
<path d="M413.6,21.8H466.2" stroke="#00ff00" stroke-width="2"/>
<text x="471.2" y="29.3" class="lg">15 ps</text>
<path d="M413.6,50.6H466.2" stroke="#000000" stroke-width="2" stroke-dasharray="8.6 6.0"/>
<text x="471.2" y="58.0" class="lg">25 ps</text>
<path d="M413.6,79.4H466.2" stroke="#0000ff" stroke-width="2" stroke-dasharray="4.7 2.05"/>
<text x="471.2" y="87.0" class="lg">35 ps</text>
<path d="M413.6,107.8H466.2" stroke="#ff0000" stroke-width="2" stroke-dasharray="9.7 2.2 3.3 2.7"/>
<text x="471.2" y="115.0" class="lg">50 ps</text>
<path d="M412.8,206.3H465.5" stroke="#00ff00" stroke-width="2"/>
<text x="471.2" y="213.8" class="lg">15 ps</text>
<path d="M412.8,235.1H465.5" stroke="#000000" stroke-width="2" stroke-dasharray="8.6 6.0"/>
<text x="471.2" y="242.6" class="lg">25 ps</text>
<path d="M412.8,263.6H465.5" stroke="#0000ff" stroke-width="2" stroke-dasharray="4.7 2.05"/>
<text x="471.2" y="271.3" class="lg">35 ps</text>
<path d="M412.8,292.4H465.5" stroke="#ff0000" stroke-width="2" stroke-dasharray="9.7 2.2 3.3 2.7"/>
<text x="471.2" y="299.6" class="lg">50 ps</text>
<path d="M413.8,368.0H466.5" stroke="#00ff00" stroke-width="2"/>
<text x="471.8" y="375.3" class="lg">15 ps</text>
<path d="M413.8,396.8H466.5" stroke="#000000" stroke-width="2" stroke-dasharray="8.6 6.0"/>
<text x="471.8" y="404.1" class="lg">25 ps</text>
<path d="M413.8,425.6H466.5" stroke="#0000ff" stroke-width="2" stroke-dasharray="4.7 2.05"/>
<text x="471.8" y="432.8" class="lg">35 ps</text>
<path d="M413.8,454.0H466.5" stroke="#ff0000" stroke-width="2" stroke-dasharray="9.7 2.2 3.3 2.7"/>
<text x="471.8" y="461.2" class="lg">50 ps</text>
<text x="62.5" y="162.7" class="tk" text-anchor="middle">0</text>
<text x="109.0" y="162.7" class="tk" text-anchor="middle">1</text>
<text x="155.5" y="162.7" class="tk" text-anchor="middle">2</text>
<text x="202.0" y="162.7" class="tk" text-anchor="middle">3</text>
<text x="248.5" y="162.7" class="tk" text-anchor="middle">4</text>
<text x="295.0" y="162.7" class="tk" text-anchor="middle">5</text>
<text x="341.6" y="162.7" class="tk" text-anchor="middle">6</text>
<text x="388.1" y="162.7" class="tk" text-anchor="middle">7</text>
<text x="434.6" y="162.7" class="tk" text-anchor="middle">8</text>
<text x="481.1" y="162.7" class="tk" text-anchor="middle">9</text>
<text x="528.0" y="162.7" class="tk" text-anchor="middle">10</text>
<text x="59.4" y="346.9" class="tk" text-anchor="middle">0.0</text>
<text x="136.8" y="346.9" class="tk" text-anchor="middle">0.5</text>
<text x="214.2" y="346.9" class="tk" text-anchor="middle">1.0</text>
<text x="291.6" y="346.9" class="tk" text-anchor="middle">1.5</text>
<text x="369.1" y="346.9" class="tk" text-anchor="middle">2.0</text>
<text x="446.5" y="346.9" class="tk" text-anchor="middle">2.5</text>
<text x="523.9" y="346.9" class="tk" text-anchor="middle">3.0</text>
<text x="59.4" y="506.6" class="tk" text-anchor="middle">0.0</text>
<text x="136.8" y="506.6" class="tk" text-anchor="middle">0.5</text>
<text x="214.2" y="506.6" class="tk" text-anchor="middle">1.0</text>
<text x="291.6" y="506.6" class="tk" text-anchor="middle">1.5</text>
<text x="369.1" y="506.6" class="tk" text-anchor="middle">2.0</text>
<text x="446.5" y="506.6" class="tk" text-anchor="middle">2.5</text>
<text x="523.9" y="506.6" class="tk" text-anchor="middle">3.0</text>
<text x="202.6" y="186.8" class="ax">Pair distance</text><text x="338.5" y="186.8" class="ax" style="font-size:20.3px">(Å)</text>
<text x="227.5" y="537.1" class="ax" style="font-size:23.6px">Angle (rad)</text>
<text transform="translate(21.9,157.3) rotate(-90)" class="ax">PDF (arb. unit)</text>
<text transform="translate(21.0,331.2) rotate(-90)" class="ax">ADF (arb. unit)</text>
<text transform="translate(22.6,494.2) rotate(-90)" class="ax">DDF (arb. unit)</text>
<text x="154.1" y="39.4" class="an">8-Td-N<tspan dy="4.2">4</tspan></text>
<text x="251.3" y="40.6" class="an">1 GPa</text>
<text x="68.8" y="123.5" class="al">(a<tspan dy="6.5" style="font-size:12px">1</tspan><tspan dy="-6.5">)</tspan></text>
<text x="68.4" y="306.4" class="al">(a<tspan dy="6.5" style="font-size:12px">2</tspan><tspan dy="-6.5">)</tspan></text>
<text x="69.6" y="466.6" class="al">(a<tspan dy="6.5" style="font-size:12px">3</tspan><tspan dy="-6.5">)</tspan></text>
</svg>
</body></html>
